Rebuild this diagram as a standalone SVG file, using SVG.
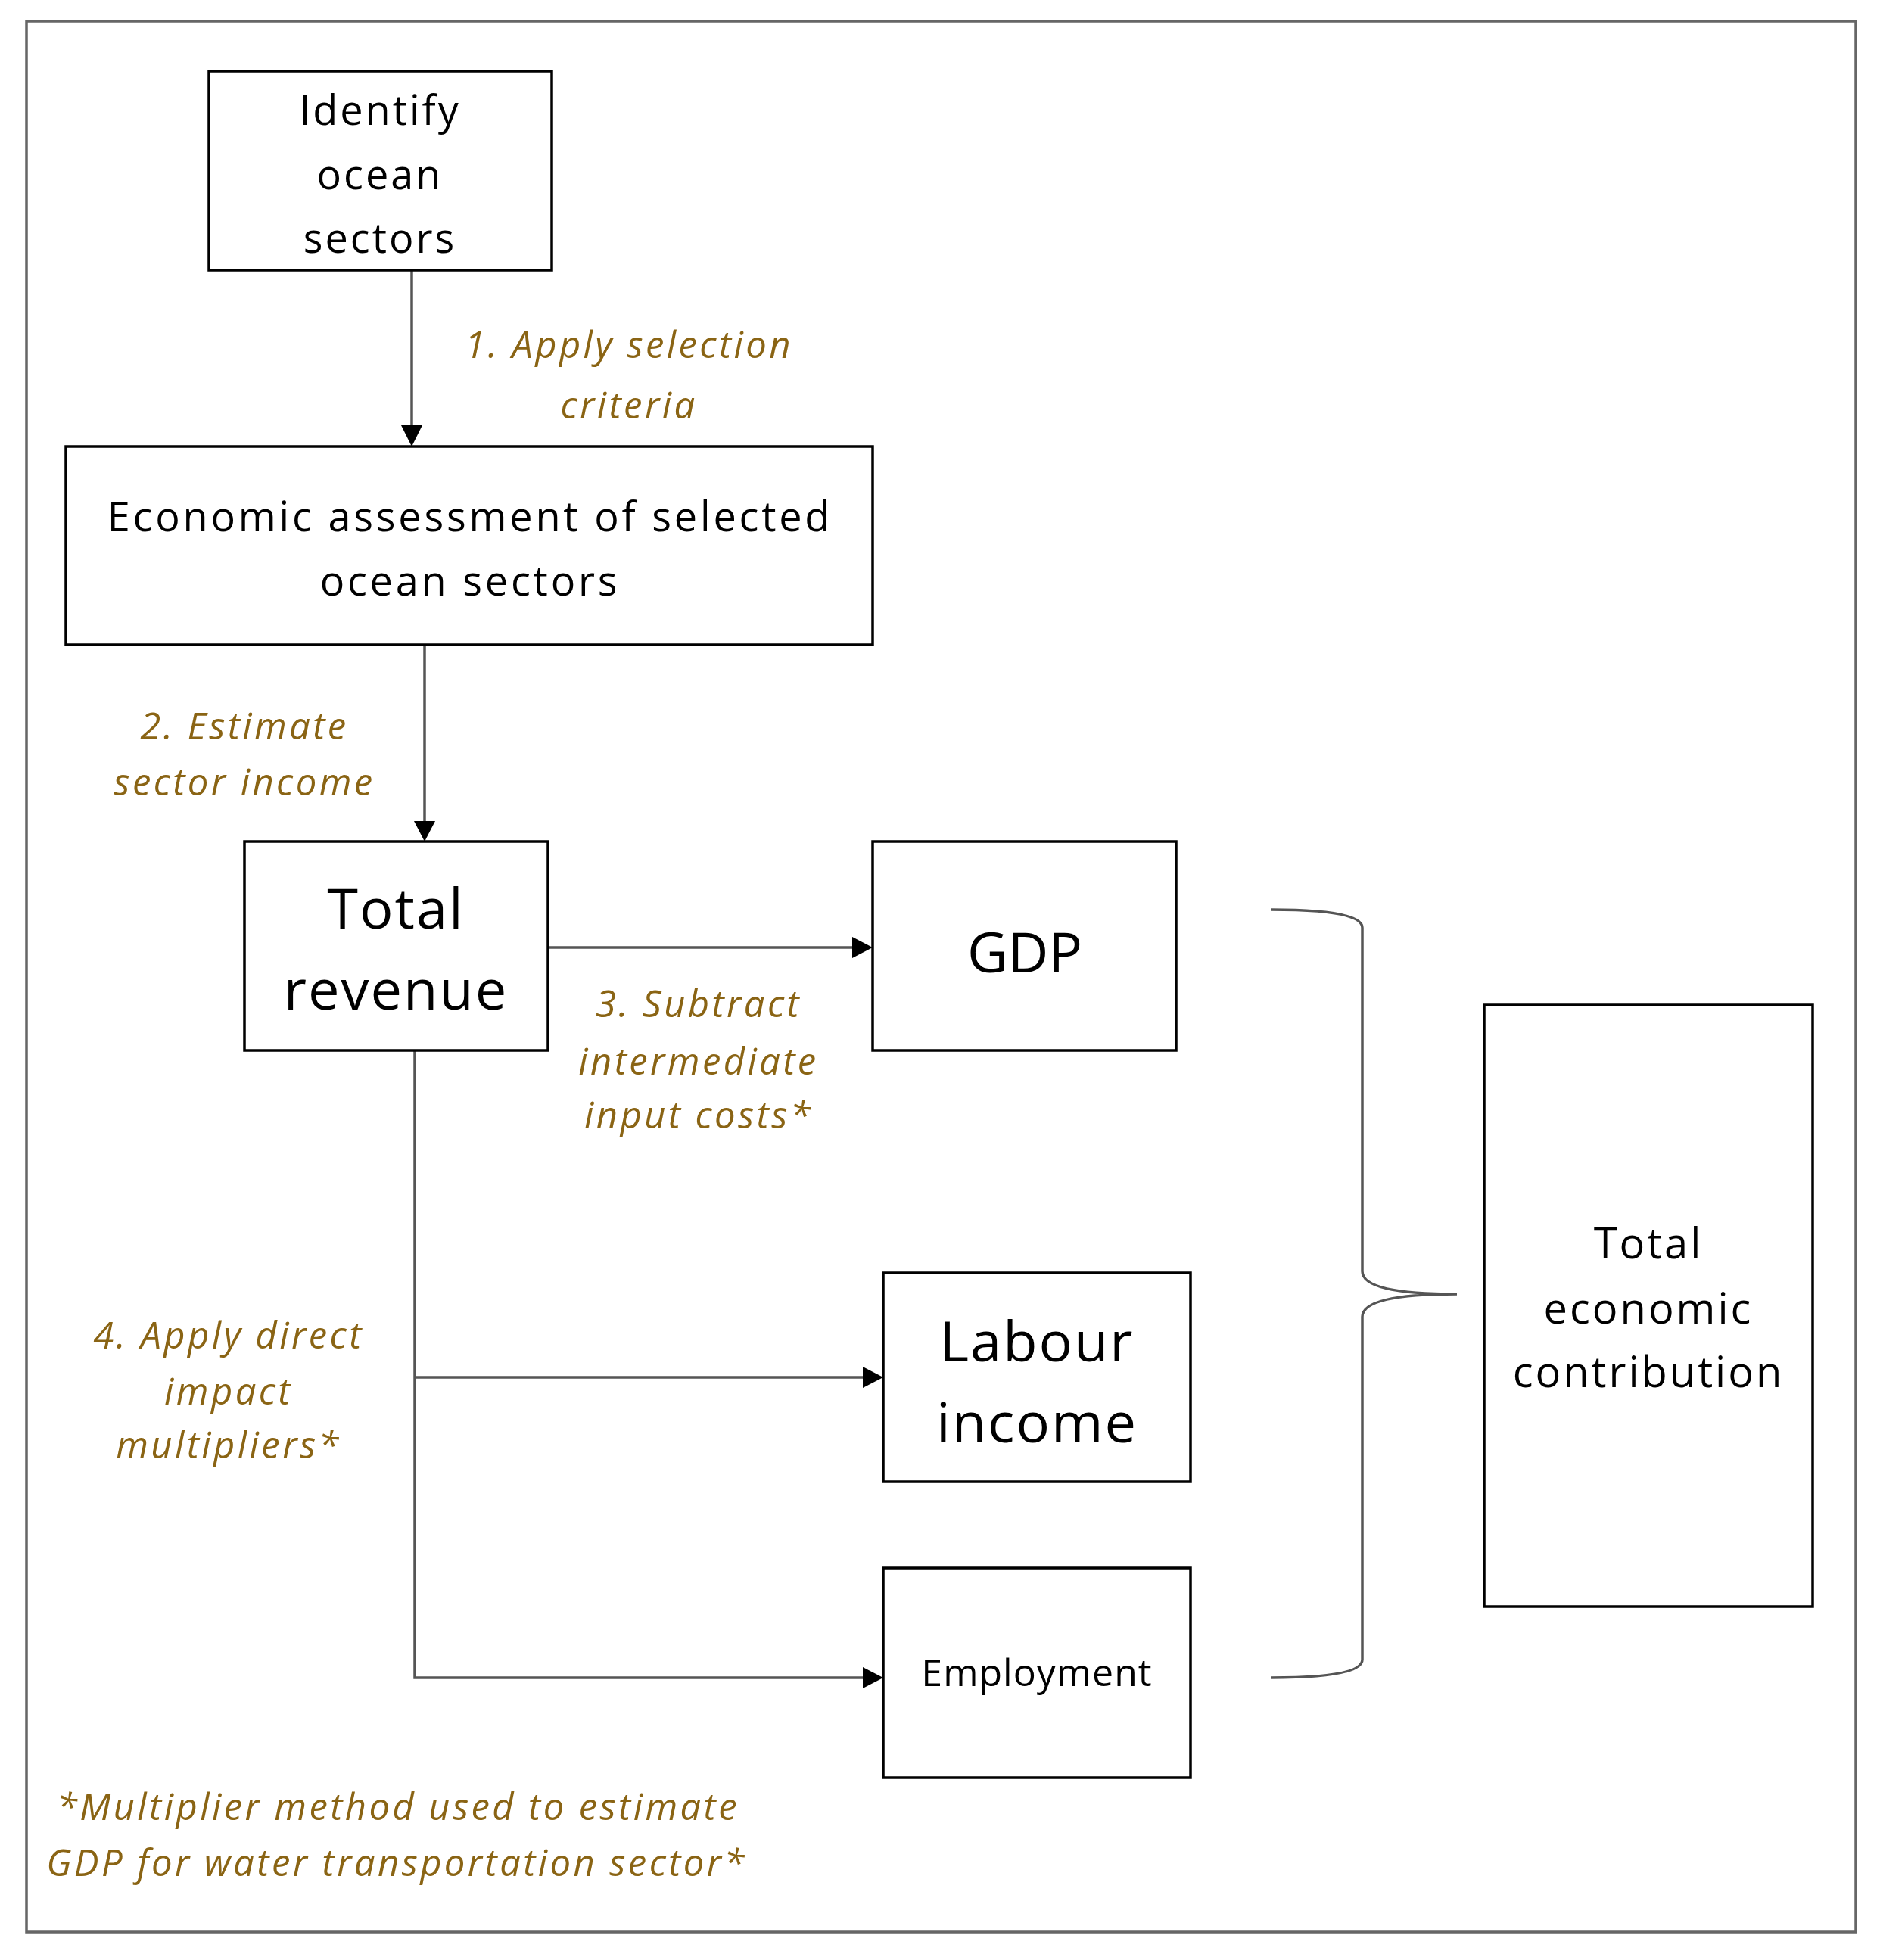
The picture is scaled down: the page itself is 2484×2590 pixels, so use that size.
<svg xmlns="http://www.w3.org/2000/svg" width="2484" height="2590" viewBox="0 0 2484 2590">
<style>
.box{fill:#fff;stroke:#000;stroke-width:3.5}
.t{font-family:"Open Sans","Liberation Sans",sans-serif;fill:#000;text-anchor:middle}
.l{font-family:"Open Sans","Liberation Sans",sans-serif;font-style:italic;fill:#8a6414;text-anchor:middle;font-size:49px;letter-spacing:3.4px}
.c{stroke:#555;stroke-width:3.5;fill:none}
</style>
<rect x="35" y="28" width="2417" height="2525" fill="#fff" stroke="#666" stroke-width="3.5"/>
<g id="connectors">
<line class="c" x1="544" y1="357" x2="544" y2="565"/>
<path d="M530,562L558,562L544,590z" fill="#000"/>
<line class="c" x1="561" y1="852" x2="561" y2="1088"/>
<path d="M547,1085L575,1085L561,1112z" fill="#000"/>
<line class="c" x1="724" y1="1252" x2="1130" y2="1252"/>
<path d="M1126,1238L1153,1252L1126,1266z" fill="#000"/>
<path class="c" d="M548,1388V2217H1143M548,1820H1143"/>
<path d="M1140,1806L1167,1820L1140,1834z" fill="#000"/>
<path d="M1140,2203L1167,2217L1140,2231z" fill="#000"/>
<path class="c" d="M1679,1202Q1800,1202 1800,1226V1680Q1800,1710 1925,1710Q1800,1710 1800,1740V2193Q1800,2217 1679,2217"/>
</g>
<g id="identify"><rect class="box" x="276" y="94" width="453" height="263"/>
<text class="t" font-size="54" letter-spacing="3"><tspan x="502" y="165">Identify</tspan><tspan x="502" y="250">ocean</tspan><tspan x="502" y="334">sectors</tspan></text></g>
<g id="econ"><rect class="box" x="87" y="590" width="1066" height="262"/>
<text class="t" font-size="54" letter-spacing="3.8"><tspan x="621" y="702">Economic assessment of selected</tspan><tspan x="621" y="787">ocean sectors</tspan></text></g>
<g id="revenue"><rect class="box" x="323" y="1112" width="401" height="276"/>
<text class="t" font-size="74" letter-spacing="2"><tspan x="523" y="1227">Total</tspan><tspan x="523" y="1334">revenue</tspan></text></g>
<g id="gdp"><rect class="box" x="1153" y="1112" width="401" height="276"/>
<text class="t" font-size="74" x="1354" y="1285">GDP</text></g>
<g id="labour"><rect class="box" x="1167" y="1682" width="406" height="276"/>
<text class="t" font-size="74" letter-spacing="2"><tspan x="1370" y="1799">Labour</tspan><tspan x="1370" y="1906">income</tspan></text></g>
<g id="employment"><rect class="box" x="1167" y="2072" width="406" height="277"/>
<text class="t" font-size="50" letter-spacing="1" x="1370" y="2228">Employment</text></g>
<g id="total"><rect class="box" x="1961" y="1328" width="434" height="795"/>
<text class="t" font-size="56" letter-spacing="3"><tspan x="2178" y="1663">Total</tspan><tspan x="2178" y="1749">economic</tspan><tspan x="2178" y="1833">contribution</tspan></text></g>
<g id="labels">
<text class="l"><tspan x="831" y="473">1. Apply selection</tspan><tspan x="831" y="553">criteria</tspan></text>
<text class="l"><tspan x="323" y="977">2. Estimate</tspan><tspan x="323" y="1051">sector income</tspan></text>
<text class="l"><tspan x="923" y="1344">3. Subtract</tspan><tspan x="923" y="1420">intermediate</tspan><tspan x="923" y="1491">input costs*</tspan></text>
<text class="l"><tspan x="302" y="1782">4. Apply direct</tspan><tspan x="302" y="1856">impact</tspan><tspan x="302" y="1927">multipliers*</tspan></text>
<text class="l"><tspan x="526" y="2405">*Multiplier method used to estimate</tspan><tspan x="524" y="2479">GDP for water transportation sector*</tspan></text>
</g>
</svg>
